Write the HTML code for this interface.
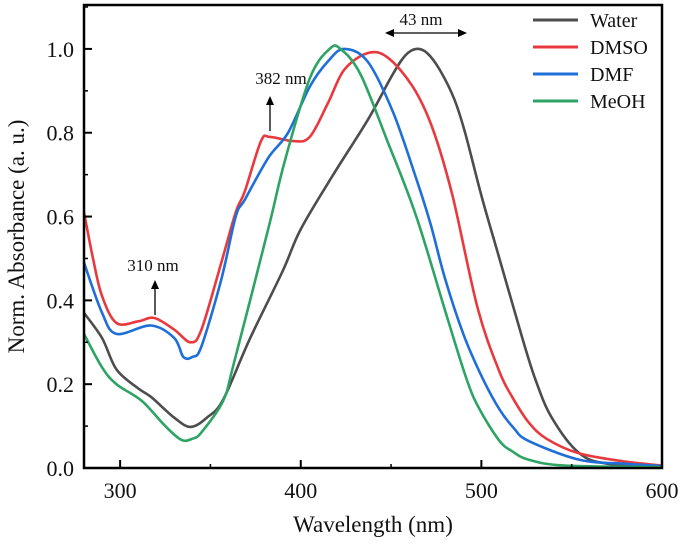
<!DOCTYPE html>
<html><head><meta charset="utf-8"><style>
body{margin:0;background:#fff}
svg text{font-family:"Liberation Serif","DejaVu Serif","Times New Roman",serif;fill:#111}
</style></head><body>
<svg id="chart" width="685" height="542" xmlns="http://www.w3.org/2000/svg">
<g id="plot"></g>
</svg>
<script>
const waterNm=[280,290,298,310,317,330,339,348,357,372,390,400,418,437,451,458,464,470,477,485,491,500,510,522,530,539,554,570,600];
const waterValues=[0.37,0.31,0.235,0.19,0.17,0.12,0.098,0.12,0.163,0.31,0.47,0.57,0.70,0.83,0.94,0.985,1.0,0.99,0.95,0.88,0.80,0.65,0.50,0.32,0.21,0.12,0.036,0.01,0.005];
const dmsoNm=[280,285,290,298,310,319,330,339,345,356,364,369,378,383,396,405,415,424,437,448,462,473,484,498,510,517,526,536,554,580,600];
const dmsoValues=[0.61,0.50,0.41,0.346,0.35,0.358,0.33,0.30,0.33,0.49,0.61,0.66,0.78,0.79,0.78,0.79,0.87,0.95,0.99,0.98,0.91,0.81,0.65,0.38,0.23,0.17,0.11,0.07,0.035,0.015,0.006];
const dmfNm=[280,290,298,317,330,335,340,345,356,364,369,382,393,405,415,424,437,451,464,472,480,490,500,510,518,526,554,580,600];
const dmfValues=[0.49,0.37,0.32,0.34,0.31,0.265,0.265,0.29,0.45,0.60,0.64,0.74,0.80,0.91,0.97,1.0,0.97,0.85,0.69,0.58,0.45,0.32,0.22,0.14,0.095,0.065,0.02,0.01,0.005];
const meohNm=[280,290,298,312,325,334,340,345,357,363,382,391,405,416,422,433,448,464,481,492,499,510,517,526,546,600];
const meohValues=[0.32,0.24,0.20,0.16,0.10,0.067,0.07,0.085,0.16,0.25,0.57,0.73,0.93,1.0,1.0,0.94,0.78,0.60,0.36,0.21,0.14,0.065,0.04,0.02,0.006,0.002];
const xTicks=[300,400,500,600];
const yTicks=[0.0,0.2,0.4,0.6,0.8,1.0];
const seriesNames=["Water","DMSO","DMF","MeOH"];

const L=84,R=662,T=5,B=468, X0=280,X1=600,Y0=0,Y1=1.1048;
const xs=v=>L+(v-X0)/(X1-X0)*(R-L);
const ys=v=>B-(v-Y0)/(Y1-Y0)*(B-T);
const NS="http://www.w3.org/2000/svg";
const g=document.getElementById('plot');
function mk(tag,attrs,parent){const e=document.createElementNS(NS,tag);for(const k in attrs)e.setAttribute(k,attrs[k]);(parent||g).appendChild(e);return e;}

function smoothPath(px,py){
 let d=`M${px[0].toFixed(1)},${py[0].toFixed(1)}`;
 for(let i=0;i<px.length-1;i++){
  const x0=px[Math.max(i-1,0)],y0=py[Math.max(i-1,0)],x1=px[i],y1=py[i],x2=px[i+1],y2=py[i+1],x3=px[Math.min(i+2,px.length-1)],y3=py[Math.min(i+2,px.length-1)];
  const c1x=x1+(x2-x0)/6,c1y=y1+(y2-y0)/6,c2x=x2-(x3-x1)/6,c2y=y2-(y3-y1)/6;
  d+=` C${c1x.toFixed(1)},${c1y.toFixed(1)} ${c2x.toFixed(1)},${c2y.toFixed(1)} ${x2.toFixed(1)},${y2.toFixed(1)}`;
 }
 return d;
}
const colors=["#4d4d4d","#e83a3e","#1f6fd8","#2ea464"];
const datasets=[[waterNm,waterValues],[dmsoNm,dmsoValues],[dmfNm,dmfValues],[meohNm,meohValues]];
const keys=["water","dmso","dmf","meoh"];
datasets.forEach((d,i)=>{
 const p=mk('path',{d:smoothPath(d[0].map(xs),d[1].map(ys)),fill:"none",stroke:colors[i],"stroke-width":2.6,"stroke-linejoin":"round"});
 
 
});

const fr=mk('rect',{x:L,y:T,width:R-L,height:B-T,fill:"none",stroke:"#000","stroke-width":2.5});



xTicks.forEach(v=>{
 const t=mk('line',{x1:xs(v),x2:xs(v),y1:B,y2:B-8,stroke:"#000","stroke-width":2});
 
 
 if(v-50>=X0){
  const m=mk('line',{x1:xs(v-50),x2:xs(v-50),y1:B,y2:B-4,stroke:"#000","stroke-width":1.5});
  
  
 }
 const tx=mk('text',{x:xs(v),y:B+30,"text-anchor":"middle","font-size":22});
 tx.textContent=v;
 
 
});
yTicks.forEach(v=>{
 const t=mk('line',{x1:L,x2:L+8,y1:ys(v),y2:ys(v),stroke:"#000","stroke-width":2});
 
 
 const m=mk('line',{x1:L,x2:L+4,y1:ys(v+0.1),y2:ys(v+0.1),stroke:"#000","stroke-width":1.5});
 
 
 const tx=mk('text',{x:L-10,y:ys(v)+8,"text-anchor":"end","font-size":22});
 tx.textContent=v.toFixed(1);
 
 
});
const xt=mk('text',{x:(L+R)/2,y:532,"text-anchor":"middle","font-size":23});
xt.textContent="Wavelength (nm)";


const yt=mk('text',{x:0,y:0,"text-anchor":"middle","font-size":23,transform:`translate(24,${(T+B)/2}) rotate(-90)`});
yt.textContent="Norm. Absorbance  (a. u.)";



seriesNames.forEach((n,i)=>{
 const y=20+i*27;
 const ln=mk('line',{x1:533,x2:578,y1:y,y2:y,stroke:colors[i],"stroke-width":3});
 
 
 const tx=mk('text',{x:590,y:y+7,"font-size":20});
 tx.textContent=n;
 
 
});

function arrowHead(x,y,dir){
 let p;
 if(dir==="up")p=`${x},${y} ${x-4},${y+9} ${x+4},${y+9}`;
 if(dir==="left")p=`${x},${y} ${x+9},${y-4} ${x+9},${y+4}`;
 if(dir==="right")p=`${x},${y} ${x-9},${y-4} ${x-9},${y+4}`;
 return mk('polygon',{points:p,fill:"#000"});
}
const a1=mk('text',{x:421,y:25,"text-anchor":"middle","font-size":17});a1.textContent="43 nm";


mk('line',{x1:388,x2:462,y1:33,y2:33,stroke:"#000","stroke-width":1.3});
arrowHead(385,33,"left");arrowHead(467,33,"right");
const a2=mk('text',{x:281,y:84,"text-anchor":"middle","font-size":17});a2.textContent="382 nm";


mk('line',{x1:270,x2:270,y1:100,y2:131,stroke:"#000","stroke-width":1.3});arrowHead(270,96,"up");
const a3=mk('text',{x:153,y:271,"text-anchor":"middle","font-size":17});a3.textContent="310 nm";


mk('line',{x1:155,x2:155,y1:285,y2:315,stroke:"#000","stroke-width":1.3});arrowHead(155,280,"up");
</script>
</body></html>
